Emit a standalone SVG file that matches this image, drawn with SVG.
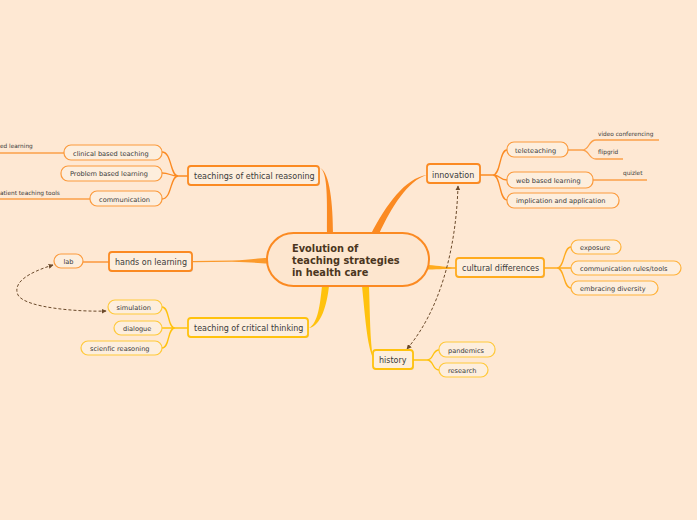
<svg xmlns="http://www.w3.org/2000/svg" width="697" height="520" viewBox="0 0 697 520">
<style>
text{font-family:"DejaVu Sans","Liberation Sans",sans-serif;fill:#3a3a3a}
.main{font-size:8px}
.sub{font-size:6.6px}
.leaf{font-size:5.8px}
.nO{fill:#fdeedd;stroke:#fb8a22;stroke-width:1.8}
.nA{fill:#fdeedd;stroke:#ffab1e;stroke-width:1.8}
.nY{fill:#fdeedd;stroke:#ffc20e;stroke-width:1.8}
.sO{fill:#fdeedd;stroke:#fb9a3c;stroke-width:1.2}
.sA{fill:#fdeedd;stroke:#ffb23a;stroke-width:1.2}
.sY{fill:#fdeedd;stroke:#ffc93a;stroke-width:1.2}
.sh{fill:#000;opacity:0.12}
.cO{fill:none;stroke:#fb8a22;stroke-width:1.3}
.cA{fill:none;stroke:#ffab1e;stroke-width:1.3}
.cY{fill:none;stroke:#ffc20e;stroke-width:1.3}
.lf{fill:none;stroke:#fca04a;stroke-width:1.3}
.d{fill:none;stroke:#6b4a2b;stroke-width:1;stroke-dasharray:3,2}
</style>
<defs>
<marker id="ah" viewBox="0 0 8 8" refX="7" refY="4" markerWidth="5" markerHeight="5" orient="auto-start-reverse">
<path d="M0,0 L8,4 L0,8 Z" fill="#6b4a2b"/>
</marker>
</defs>
<rect width="697" height="520" fill="#fee8d3"/>
<g id="connectors">
<path d="M320,168 C328,172 327,200 327,234 L333,234 C333,205 330,172 320,168 Z" fill="#fb8a22"/>
<path d="M427,175 C405,178 386,205 371,234 L379,234 C391,208 408,180 427,175 Z" fill="#fb8a22"/>
<path d="M193,261 L232,260.6 C250,259.6 260,258 268,258 L268,263.5 C260,263.2 250,262.2 232,261.8 L193,262.2 Z" fill="#fb9a2c"/>
<path d="M428,265 C440,266 446,267 456,267.3 L456,268.7 C446,268.8 440,269.2 428,269.6 Z" fill="#ffab1e"/>
<path d="M322,286 C320,305 318,323 309,328 C321,326 327,305 329,286 Z" fill="#ffc20e"/>
<path d="M362,286 C365,315 367,345 373,358 C370,340 370,315 369,286 Z" fill="#ffc20e"/>
<path class="cO" d="M188,176 L178,176 M178,176 C170,176 172,152 162,152 M178,176 C170,176 170,173 162,173 M178,176 C170,176 172,199 162,199"/>
<path class="lf" d="M0,153 L64,153 M0,199 L90,199"/>
<path class="cO" d="M480,175 L493,175 M493,175 C501,175 499,150 507,150 M493,175 C501,175 499,180 507,180 M493,175 C501,175 499,200 507,200"/>
<path class="lf" d="M568,150 L582,150 C590,150 588,140 596,140 L659,140 M582,150 C590,150 588,159 596,159 L623,159 M593,180 L647,180"/>
<path class="cA" d="M544,268 L557,268 M557,268 C565,268 563,247 571,247 M557,268 L571,268 M557,268 C565,268 563,288 571,288"/>
<path class="cO" d="M83,262 L109,262"/>
<path class="cY" d="M188,328 L175,328 M175,328 C167,328 170,307 162,307 M175,328 L162,328 M175,328 C167,328 170,348 162,348"/>
<path class="cY" d="M413,360 L427,360 M427,360 C434,360 432,350 439,350 M427,360 C434,360 432,370 439,370"/>
<path class="d" d="M458,186 C456,250 440,310 407,349" marker-start="url(#ah)" marker-end="url(#ah)"/>
<path class="d" d="M53,265 C30,272 12,282 18,295 C25,308 80,312 106,311" marker-start="url(#ah)" marker-end="url(#ah)"/>
</g>
<g id="center">
<rect x="267" y="233" width="162" height="53" rx="26.5" fill="#fde6cf" stroke="#fb8a22" stroke-width="2"/>
<text x="292" y="252" style="font-size:9.8px;font-weight:bold;fill:#4a3520">Evolution of</text>
<text x="292" y="264" style="font-size:9.8px;font-weight:bold;fill:#4a3520">teaching strategies</text>
<text x="292" y="276" style="font-size:9.8px;font-weight:bold;fill:#4a3520">in health care</text>
</g>
<g id="ethical">
<rect class="sh" x="189" y="167" width="131" height="19" rx="3"/>
<rect class="nO" x="188" y="166" width="131" height="19" rx="3"/>
<text class="main" x="194" y="179">teachings of ethical reasoning</text>
</g>
<g id="clinical">
<rect class="sO" x="64" y="145" width="98" height="15" rx="7"/>
<text class="sub" x="73" y="155.5">clinical based teaching</text>
</g>
<g id="problem">
<rect class="sO" x="61" y="166" width="101" height="15" rx="7"/>
<text class="sub" x="70" y="176">Problem based learning</text>
</g>
<g id="communication">
<rect class="sO" x="90" y="191" width="72" height="15" rx="7"/>
<text class="sub" x="99" y="201.5">communication</text>
</g>
<g id="leaf-ed">
<text class="leaf" x="0" y="148">ed learning</text>
</g>
<g id="leaf-patient">
<text class="leaf" x="0" y="195">atient teaching tools</text>
</g>
<g id="innovation">
<rect class="sh" x="428" y="165" width="53" height="19" rx="3"/>
<rect class="nO" x="427" y="164" width="53" height="19" rx="3"/>
<text class="main" x="432" y="177.5">innovation</text>
</g>
<g id="teleteaching">
<rect class="sO" x="507" y="142" width="61" height="15" rx="7"/>
<text class="sub" x="515" y="152.5">teleteaching</text>
</g>
<g id="web">
<rect class="sO" x="507" y="172" width="86" height="16" rx="7"/>
<text class="sub" x="516" y="183">web based learning</text>
</g>
<g id="implication">
<rect class="sO" x="507" y="193" width="112" height="15" rx="7"/>
<text class="sub" x="516" y="203">implication and application</text>
</g>
<g id="leaf-video">
<text class="leaf" x="598" y="136">video conferencing</text>
</g>
<g id="leaf-flipgrid">
<text class="leaf" x="598" y="154">flipgrid</text>
</g>
<g id="leaf-quizlet">
<text class="leaf" x="623" y="175">quizlet</text>
</g>
<g id="cultural">
<rect class="sh" x="457" y="259" width="88" height="19" rx="3"/>
<rect class="nA" x="456" y="258" width="88" height="19" rx="3"/>
<text class="main" x="462" y="271">cultural differences</text>
</g>
<g id="exposure">
<rect class="sA" x="571" y="240" width="50" height="14" rx="7"/>
<text class="sub" x="580" y="250">exposure</text>
</g>
<g id="commrules">
<rect class="sA" x="571" y="261" width="110" height="14" rx="7"/>
<text class="sub" x="580" y="271">communication rules/tools</text>
</g>
<g id="diversity">
<rect class="sA" x="571" y="281" width="87" height="14" rx="7"/>
<text class="sub" x="580" y="291">embracing diversity</text>
</g>
<g id="hands">
<rect class="sh" x="110" y="253" width="83" height="19" rx="3"/>
<rect class="nO" x="109" y="252" width="83" height="19" rx="3"/>
<text class="main" x="115" y="265">hands on learning</text>
</g>
<g id="lab">
<rect class="sO" x="54" y="254" width="29" height="14" rx="7"/>
<text class="sub" x="63.5" y="264">lab</text>
</g>
<g id="critical">
<rect class="sh" x="189" y="319" width="120" height="19" rx="3"/>
<rect class="nY" x="188" y="318" width="120" height="19" rx="3"/>
<text class="main" x="194" y="331">teaching of critical thinking</text>
</g>
<g id="simulation">
<rect class="sY" x="108" y="300" width="54" height="14" rx="7"/>
<text class="sub" x="116.5" y="310">simulation</text>
</g>
<g id="dialogue">
<rect class="sY" x="114" y="321" width="48" height="14" rx="7"/>
<text class="sub" x="123" y="331">dialogue</text>
</g>
<g id="scientific">
<rect class="sY" x="81" y="341" width="81" height="14" rx="7"/>
<text class="sub" x="90" y="351">scienfic reasoning</text>
</g>
<g id="history">
<rect class="sh" x="374" y="351" width="40" height="19" rx="3"/>
<rect class="nY" x="373" y="350" width="40" height="19" rx="3"/>
<text class="main" x="379" y="363">history</text>
</g>
<g id="pandemics">
<rect class="sY" x="439" y="342" width="56" height="15" rx="7"/>
<text class="sub" x="448" y="352.5">pandemics</text>
</g>
<g id="research">
<rect class="sY" x="439" y="363" width="49" height="14" rx="7"/>
<text class="sub" x="448" y="373">research</text>
</g>
</svg>
